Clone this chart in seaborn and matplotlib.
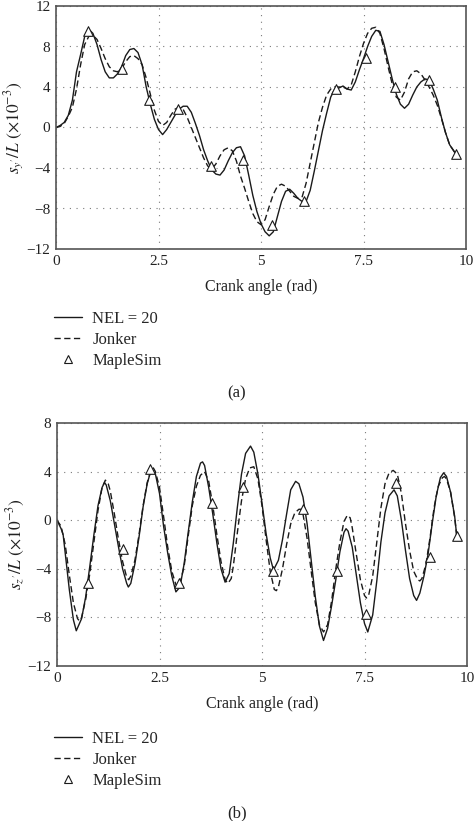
import numpy as np
import pandas as pd
import matplotlib
matplotlib.use("Agg")
import matplotlib.pyplot as plt
import seaborn as sns
from matplotlib.lines import Line2D

# ---- data ----
# (a) s_y'/L (x1e-3)
top_x = [0.0, 0.1, 0.2, 0.3, 0.4, 0.5, 0.6, 0.7, 0.8, 0.9, 1.0, 1.1, 1.2, 1.3, 1.4, 1.5, 1.6, 1.7, 1.8, 1.9,
         2.0, 2.1, 2.2, 2.3, 2.4, 2.5, 2.6, 2.7, 2.8, 2.9, 3.0, 3.1, 3.2, 3.3, 3.4, 3.5, 3.6, 3.7, 3.8, 3.9,
         4.0, 4.1, 4.2, 4.3, 4.4, 4.5, 4.6, 4.7, 4.8, 4.9, 5.0, 5.1, 5.2, 5.3, 5.4, 5.5, 5.6, 5.7, 5.8, 5.9,
         6.0, 6.1, 6.2, 6.3, 6.4, 6.5, 6.6, 6.7, 6.8, 6.9, 7.0, 7.1, 7.2, 7.3, 7.4, 7.5, 7.6, 7.7, 7.8, 7.9,
         8.0, 8.1, 8.2, 8.3, 8.4, 8.5, 8.6, 8.7, 8.8, 8.9, 9.0, 9.1, 9.2, 9.3, 9.4, 9.5, 9.6, 9.7, 9.75]
top_nel = [0.0, 0.2, 0.5, 1.2, 2.7, 5.5, 7.2, 9.0, 9.7, 9.3, 8.2, 6.7, 5.5, 4.9, 4.9, 5.3, 6.0, 7.1, 7.7, 7.8,
           7.4, 6.2, 4.0, 2.3, 0.8, -0.2, -0.7, -0.2, 0.5, 1.2, 1.8, 2.1, 2.1, 1.5, 0.4, -0.8, -2.2, -3.3, -4.2, -4.6,
           -4.7, -4.2, -3.3, -2.5, -2.0, -1.9, -2.8, -4.7, -6.7, -8.3, -9.5, -10.3, -10.7, -10.3, -8.8, -7.3, -6.3, -6.1, -6.5, -7.0,
           -7.3, -7.3, -6.2, -4.3, -2.3, -0.3, 1.4, 3.0, 3.8, 3.9, 4.1, 3.8, 3.7, 4.5, 5.7, 6.8, 8.0, 9.0, 9.6, 9.5,
           8.2, 6.5, 4.8, 3.3, 2.3, 1.9, 2.3, 3.2, 4.0, 4.5, 4.8, 4.7, 3.8, 2.7, 1.0, -0.5, -1.7, -2.3, -2.6]
top_jonker = [0.0, 0.1, 0.4, 1.1, 2.0, 3.8, 6.2, 8.2, 9.0, 9.1, 8.7, 7.8, 6.8, 6.0, 5.6, 5.5, 5.8, 6.5, 7.0, 7.1,
              6.8, 6.2, 4.9, 3.3, 1.7, 0.6, 0.2, 0.5, 1.2, 1.8, 2.0, 1.8, 1.0, 0.0, -1.0, -2.0, -3.0, -3.8, -4.1, -3.6,
              -2.8, -2.2, -2.0, -2.3, -3.3, -4.8, -6.0, -7.3, -8.5, -9.3, -9.6, -9.1, -7.8, -6.6, -5.8, -5.6, -5.8, -6.3, -6.8, -7.0,
              -6.9, -5.5, -3.5, -1.5, 0.5, 2.0, 3.2, 3.8, 4.0, 4.0, 4.0, 3.8, 4.2, 5.5, 7.0, 8.3, 9.3, 9.8, 9.9, 9.3,
              7.8, 6.0, 4.3, 3.0, 2.7, 3.5, 4.8, 5.5, 5.6, 5.3, 4.7, 4.0, 3.2, 2.2, 0.9, -0.5, -1.7, -2.3, -2.6]
top_maple_x = [0.77, 1.61, 2.26, 2.98, 3.79, 4.55, 5.27, 6.04, 6.84, 7.55, 8.27, 9.10, 9.75]
top_maple = [9.5, 5.8, 2.7, 1.8, -3.8, -3.2, -9.6, -7.3, 3.8, 6.9, 4.0, 4.7, -2.6]

# (b) s_z'/L (x1e-3)
bot_nel_x = [0.0, 0.1, 0.15, 0.2, 0.3, 0.4, 0.47, 0.6, 0.7, 0.8, 0.9, 1.0, 1.1, 1.16, 1.2, 1.3, 1.4, 1.5, 1.6, 1.7,
             1.74, 1.8, 1.9, 2.0, 2.1, 2.2, 2.3, 2.4, 2.5, 2.6, 2.7, 2.8, 2.9, 3.0, 3.1, 3.2, 3.3, 3.4, 3.5, 3.55,
             3.6, 3.7, 3.8, 3.9, 4.0, 4.1, 4.2, 4.3, 4.4, 4.5, 4.6, 4.72, 4.8, 4.9, 5.0, 5.1, 5.2, 5.28, 5.4, 5.5,
             5.6, 5.7, 5.82, 5.9, 6.0, 6.1, 6.2, 6.3, 6.4, 6.5, 6.6, 6.7, 6.8, 6.9, 7.0, 7.05, 7.1, 7.2, 7.3, 7.4,
             7.5, 7.58, 7.7, 7.8, 7.9, 8.0, 8.1, 8.22, 8.3, 8.4, 8.5, 8.6, 8.7, 8.77, 8.85, 8.95, 9.05, 9.15, 9.25, 9.35,
             9.43, 9.5, 9.6, 9.7, 9.75]
bot_nel = [0.0, -0.7, -1.2, -2.7, -5.7, -8.2, -9.1, -8.1, -6.3, -3.8, -1.2, 1.2, 2.7, 3.1, 2.9, 1.6, -0.3, -2.2, -4.0, -5.2,
           -5.5, -5.2, -3.6, -1.4, 1.1, 3.0, 4.2, 3.8, 2.2, -0.5, -2.7, -4.6, -5.9, -5.5, -3.6, -1.0, 1.5, 3.6, 4.7, 4.8,
           4.5, 2.7, 0.5, -1.9, -4.0, -5.1, -4.4, -1.9, 1.1, 3.8, 5.5, 6.1, 5.6, 3.8, 1.4, -1.1, -3.1, -4.1, -3.3, -1.6,
           0.5, 2.5, 3.2, 3.0, 1.9, -0.3, -3.3, -6.3, -8.7, -9.9, -8.9, -7.0, -4.9, -2.6, -1.0, -0.7, -0.9, -2.2, -4.5, -6.8,
           -8.5, -9.2, -7.8, -5.0, -1.8, 0.6, 2.0, 2.5, 2.0, 0.0, -2.5, -4.8, -6.2, -6.6, -6.0, -4.6, -2.8, -0.3, 2.0, 3.5,
           3.9, 3.6, 2.3, 0.3, -1.3]
bot_jonker_x = [0.0, 0.1, 0.2, 0.3, 0.4, 0.5, 0.55, 0.6, 0.7, 0.8, 0.9, 1.0, 1.1, 1.18, 1.25, 1.3, 1.4, 1.5, 1.6, 1.7,
                1.75, 1.8, 1.9, 2.0, 2.1, 2.2, 2.3, 2.35, 2.4, 2.5, 2.6, 2.7, 2.8, 2.9, 2.95, 3.0, 3.1, 3.2, 3.3, 3.4,
                3.5, 3.6, 3.7, 3.8, 3.9, 4.0, 4.1, 4.17, 4.25, 4.3, 4.4, 4.5, 4.6, 4.7, 4.8, 4.9, 5.0, 5.1, 5.2, 5.3,
                5.35, 5.4, 5.5, 5.6, 5.7, 5.8, 5.9, 5.95, 6.0, 6.1, 6.2, 6.3, 6.4, 6.5, 6.6, 6.7, 6.8, 6.9, 7.0, 7.08,
                7.15, 7.2, 7.3, 7.4, 7.5, 7.55, 7.6, 7.7, 7.8, 7.9, 8.0, 8.1, 8.2, 8.3, 8.4, 8.5, 8.6, 8.7, 8.8, 8.85,
                8.9, 9.0, 9.1, 9.2, 9.3, 9.4, 9.45, 9.5, 9.6, 9.7, 9.75]
bot_jonker = [0.0, -0.5, -2.0, -4.5, -6.8, -8.1, -8.3, -8.0, -6.5, -4.4, -1.8, 0.8, 2.7, 3.3, 3.0, 2.4, 0.5, -1.6, -3.4, -4.7,
              -4.9, -4.6, -3.3, -1.2, 1.2, 3.1, 4.2, 4.3, 4.0, 2.7, 0.3, -2.2, -4.2, -5.3, -5.5, -5.2, -3.8, -1.3, 1.2, 2.8,
              3.7, 4.0, 3.2, 1.2, -1.2, -3.4, -4.9, -5.2, -4.8, -3.8, -1.0, 1.6, 3.4, 4.3, 4.4, 3.4, 1.2, -1.6, -4.2, -5.7,
              -5.8, -5.5, -4.0, -2.0, -0.3, 0.6, 0.9, 0.9, 0.5, -1.5, -4.2, -6.8, -8.6, -9.2, -8.6, -6.6, -4.0, -1.8, -0.1, 0.4,
              0.2, -0.6, -2.8, -4.9, -6.2, -6.4, -6.2, -4.6, -1.8, 1.0, 3.0, 3.9, 4.1, 3.8, 2.2, -0.3, -2.5, -4.2, -4.9, -5.0,
              -4.8, -3.6, -1.4, 1.1, 2.8, 3.5, 3.6, 3.4, 2.3, 0.2, -1.3]
bot_maple_x = [0.76, 1.62, 2.28, 2.98, 3.79, 4.53, 5.26, 6.01, 6.84, 7.54, 8.27, 9.10, 9.75]
bot_maple = [-5.2, -2.4, 4.2, -5.2, 1.4, 2.7, -4.2, 0.9, -4.2, -7.7, 3.1, -3.0, -1.3]

labels = ["NEL = 20", "Jonker", "MapleSim"]
x_ticks = [0, 2.5, 5, 7.5, 10]
x_ticklabels = ["0", "2.5", "5", "7.5", "10"]

sns.set_style("white")
plt.rcParams["font.family"] = ["Liberation Serif", "DejaVu Serif"]
plt.rcParams["mathtext.fontset"] = "stix"
plt.rcParams["axes.unicode_minus"] = True

fig = plt.figure(figsize=(4.74, 8.21), dpi=100)
ax1 = fig.add_axes([56 / 474, 1 - 249 / 821, 410 / 474, 243 / 821])
ax2 = fig.add_axes([57 / 474, 1 - 666 / 821, 410 / 474, 243 / 821])

line_col = "#1a1a1a"


def draw_panel(ax, x_nel, y_nel, x_jon, y_jon, x_map, y_map, yticks, ylabel):
    df_nel = pd.DataFrame({"x": x_nel, "y": y_nel})
    df_jon = pd.DataFrame({"x": x_jon, "y": y_jon})
    df_map = pd.DataFrame({"x": x_map, "y": y_map})
    sns.lineplot(data=df_jon, x="x", y="y", ax=ax, color=line_col, lw=1.0,
                 linestyle=(0, (4.5, 2.5)), estimator=None, sort=False)
    sns.lineplot(data=df_nel, x="x", y="y", ax=ax, color=line_col, lw=1.0,
                 estimator=None, sort=False)
    ax.scatter(df_map["x"], df_map["y"], marker="^", s=48, facecolor="white",
               edgecolor=line_col, linewidth=0.8, zorder=5)
    ax.set_xlim(0, 10)
    ax.set_ylim(yticks[0], yticks[-1])
    ax.set_xticks(x_ticks)
    ax.set_xticklabels(x_ticklabels)
    ax.set_yticks(yticks)
    ax.set_yticklabels([str(t).replace("-", "\u2212") for t in yticks])
    ax.grid(True, color="#7a7a7a", linestyle=(0, (1, 5)), linewidth=0.8)
    ax.tick_params(length=0, labelsize=11, pad=4, colors="#222222")
    for sp in ax.spines.values():
        sp.set_color("#555555")
        sp.set_linewidth(1.2)
    ax.set_xlabel("Crank angle (rad)", fontsize=11.5, labelpad=8, color="#222222")
    ax.set_ylabel(ylabel, fontsize=12.5, color="#222222")
    ax.yaxis.set_label_coords(-0.074, 0.5)


draw_panel(ax1, top_x, top_nel, top_x, top_jonker, top_maple_x, top_maple,
           [-12, -8, -4, 0, 4, 8, 12], r"$s_{y'}/L\ (\times 10^{-3})$")
draw_panel(ax2, bot_nel_x, bot_nel, bot_jonker_x, bot_jonker, bot_maple_x, bot_maple,
           [-12, -8, -4, 0, 4, 8], r"$s_{z'}/L\ (\times 10^{-3})$")

handles = [
    Line2D([], [], color=line_col, lw=1.0),
    Line2D([], [], color=line_col, lw=1.0, linestyle=(0, (4.5, 2.5))),
    Line2D([], [], color=line_col, lw=0, marker="^", markersize=6,
           markerfacecolor="white", markeredgewidth=0.8),
]
for ytop in [311 / 821, 731 / 821]:
    fig.legend(handles, labels, loc="upper left", bbox_to_anchor=(54 / 474, 1 - ytop),
               frameon=False, fontsize=12, handlelength=1.7, handletextpad=0.6,
               labelspacing=0.3, borderpad=0, borderaxespad=0)

fig.text(237 / 474, 1 - 393 / 821, "(a)", ha="center", va="center", fontsize=12, color="#222222")
fig.text(237 / 474, 1 - 813 / 821, "(b)", ha="center", va="center", fontsize=12, color="#222222")

fig.savefig("out.png", dpi=100)
